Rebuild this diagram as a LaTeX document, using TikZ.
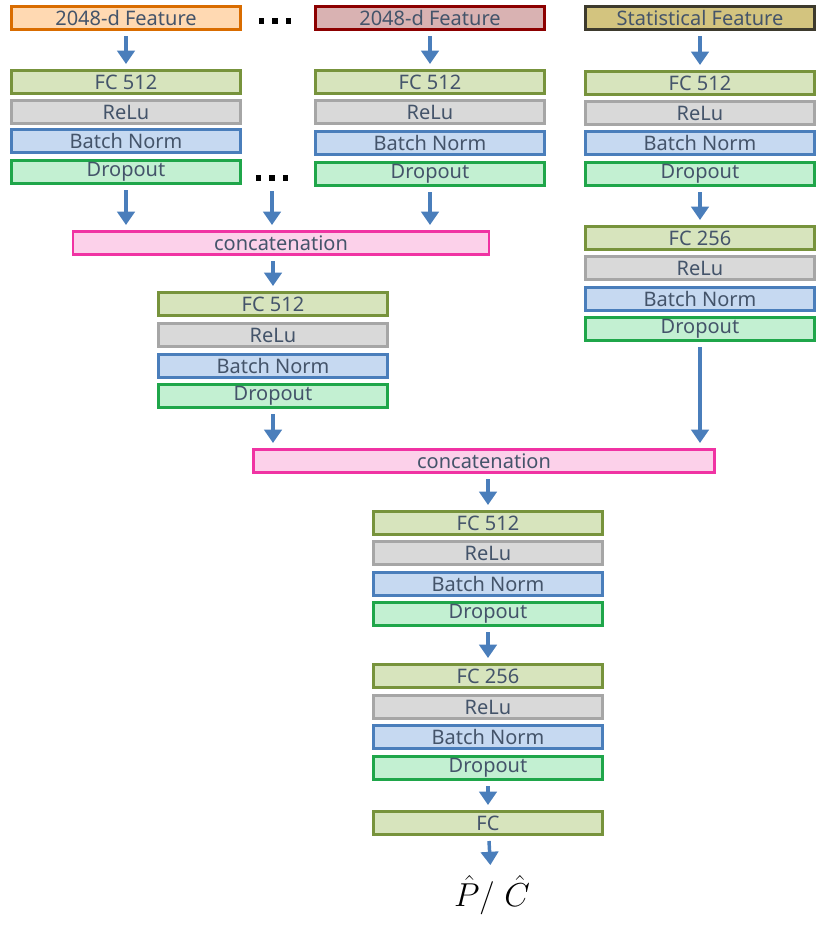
\documentclass[tikz,border=0pt]{standalone}
\usepackage{fontspec}
\setmainfont{Noto Sans}
\usetikzlibrary{arrows.meta}
\definecolor{txt}{HTML}{44546A}
\definecolor{arr}{HTML}{4A7EBB}
\definecolor{fcline}{HTML}{77933C}
\definecolor{fcfill}{HTML}{D7E4BD}
\definecolor{drline}{HTML}{1FA64A}
\definecolor{drfill}{HTML}{C3F0D2}
\definecolor{bnfill}{HTML}{C6D9F1}
\tikzstyle{box} = [draw, line width=2pt, rectangle, minimum height=17pt, inner sep=0pt, text=txt, font={\fontsize{15pt}{15}\selectfont}]
\tikzstyle{col} = [box, minimum width=172pt]
\tikzstyle{feat} = [col]
\tikzstyle{fc} = [col, draw=fcline, fill=fcfill]
\tikzstyle{relu} = [col, draw=black!35, fill=black!15]
\tikzstyle{bn} = [col, draw=arr, fill=bnfill]
\tikzstyle{drop} = [col, draw=drline, fill=drfill]
\tikzstyle{cat} = [box, draw=magenta!80!white, fill=magenta!18!white]
\tikzstyle{dots} = [minimum width=30pt, minimum height=6pt, path picture={\foreach \i in {-1,0,1} \fill (path picture bounding box.center) ++(\i*10pt-2pt,-2pt) rectangle ++(4pt,4pt);}]
\tikzstyle{flow} = [-{Triangle[length=10pt,width=13pt]}, draw=arr, line width=2.6pt, shorten <=4pt, shorten >=4pt]
\begin{document}
\begin{tikzpicture}[x=0.75pt, y=-0.75pt]
    \useasboundingbox (0,0) rectangle (828,925);
    % first branch
    \node [feat, draw=orange!85!black, fill=orange!30!white] (fa) at (126,18) {2048-d Feature};
    \node [fc] (fca) at (126,82) {FC 512};
    \node [relu] (rla) at (126,112) {ReLu};
    \node [bn] (bna) at (126,141) {Batch Norm};
    \node [drop] (dra) at (126,172) {Dropout};
    % second branch
    \node [feat, draw=red!55!black, fill=red!50!black!30!white] (fb) at (430,18) {2048-d Feature};
    \node [fc] (fcb) at (430,82) {FC 512};
    \node [relu] (rlb) at (430,112) {ReLu};
    \node [bn] (bnb) at (430,143) {Batch Norm};
    \node [drop] (drb) at (430,174) {Dropout};
    % statistical branch
    \node [feat, draw=black!75!olive, fill=olive!55!brown!50!white] (fc) at (700,18) {Statistical Feature};
    \node [fc] (fcc) at (700,83) {FC 512};
    \node [relu] (rlc) at (700,113) {ReLu};
    \node [bn] (bnc) at (700,143) {Batch Norm};
    \node [drop] (drc) at (700,174) {Dropout};
    \node [fc] (fcc2) at (700,238) {FC 256};
    \node [relu] (rlc2) at (700,268) {ReLu};
    \node [bn] (bnc2) at (700,299) {Batch Norm};
    \node [drop] (drc2) at (700,329) {Dropout};
    \node [dots] (dt1) at (275,21) {};
    \node [dots] (dt2) at (272,178) {};
    \coordinate (dt2b) at (272,186);
    % merged branch
    \node [cat, minimum width=312pt] (cat1) at (281,243) {concatenation};
    \node [fc] (fcd) at (273,304) {FC 512};
    \node [relu] (rld) at (273,335) {ReLu};
    \node [bn] (bnd) at (273,366) {Batch Norm};
    \node [drop] (drd) at (273,396) {Dropout};
    \node [cat, minimum width=346pt] (cat2) at (484,461) {concatenation};
    % head
    \node [fc] (fce) at (488,523) {FC 512};
    \node [relu] (rle) at (488,553) {ReLu};
    \node [bn] (bne) at (488,584) {Batch Norm};
    \node [drop] (dre) at (488,614) {Dropout};
    \node [fc] (fce2) at (488,676) {FC 256};
    \node [relu] (rle2) at (488,707) {ReLu};
    \node [bn] (bne2) at (488,737) {Batch Norm};
    \node [drop] (dre2) at (488,768) {Dropout};
    \node [fc] (fcl) at (488,823) {FC};
    \node [font={\fontsize{28pt}{30}\selectfont}] (out) at (492,895) {$\hat{P}/\ \hat{C}$};
    % arrows
    \draw [flow] (fa) -- (fca);
    \draw [flow] (fb) -- (fcb);
    \draw [flow] (fc) -- (fcc);
    \draw [flow] (dra) -- (dra|-cat1.north);
    \draw [flow] (dt2b) -- (dt2b|-cat1.north);
    \draw [flow] (drb) -- (drb|-cat1.north);
    \draw [flow] (drc) -- (fcc2);
    \draw [flow] (cat1.south-|fcd) -- (fcd);
    \draw [flow] (drd) -- (drd|-cat2.north);
    \draw [flow] (drc2) -- (drc2|-cat2.north);
    \draw [flow] (cat2.south-|fce) -- (fce);
    \draw [flow] (dre) -- (fce2);
    \draw [flow] (dre2) -- (fcl);
    \draw [flow] (fcl) -- (out);
\end{tikzpicture}
\end{document}
